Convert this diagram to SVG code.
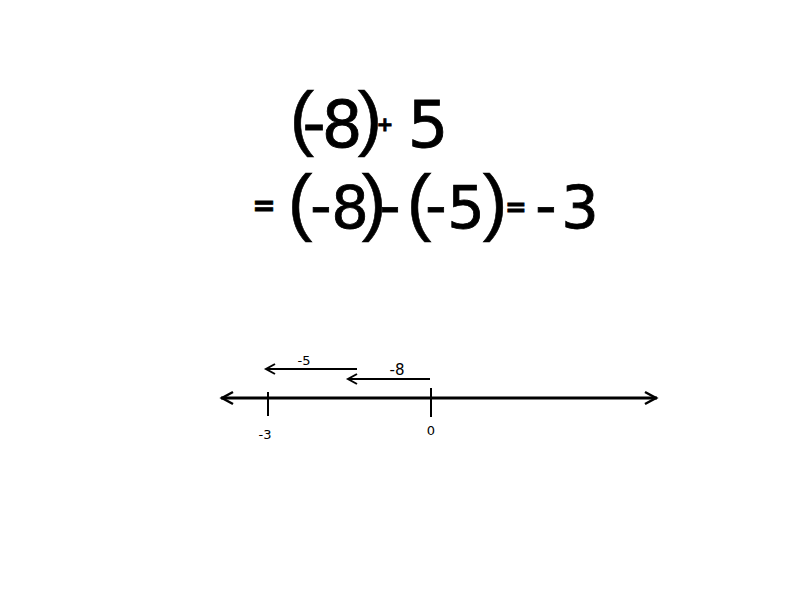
<svg xmlns="http://www.w3.org/2000/svg" width="800" height="600" viewBox="0 0 800 600">
<style>
.eq{font-family:"DejaVu Sans",sans-serif;fill:#000;stroke:#000;stroke-width:0.8;text-anchor:middle}
.p{font-family:"Liberation Sans Narrow","Liberation Sans",sans-serif;stroke-width:0.6}
.lbl{font-family:"DejaVu Sans",sans-serif;fill:#000;text-anchor:middle}
.ln{stroke:#000;fill:none;stroke-linecap:butt;stroke-linejoin:miter}
</style>
<rect width="800" height="600" fill="#fff"/>
<g id="line1">
<text class="eq" font-size="64"><tspan class="p" x="302" y="142" font-size="73">(</tspan><tspan x="314" y="145">-</tspan><tspan x="342" y="147">8</tspan><tspan class="p" x="370" y="142" font-size="73">)</tspan><tspan x="385" y="131" font-size="20" font-weight="bold">+</tspan><tspan x="428" y="147">5</tspan></text>
</g>
<g id="line2">
<text class="eq" font-size="59"><tspan x="264" y="215" font-size="28" font-weight="bold">=</tspan><tspan class="p" x="300" y="227" font-size="74">(</tspan><tspan x="321" y="226">-</tspan><tspan x="350" y="228">8</tspan><tspan class="p" x="374" y="227" font-size="74">)</tspan><tspan x="390" y="226">-</tspan><tspan class="p" x="419" y="227" font-size="74">(</tspan><tspan x="436" y="226">-</tspan><tspan x="466" y="228">5</tspan><tspan class="p" x="495" y="227" font-size="74">)</tspan><tspan x="516" y="216" font-size="26" font-weight="bold">=</tspan><tspan x="546" y="226">-</tspan><tspan x="580" y="228">3</tspan></text>
</g>
<g id="numberline">
<line class="ln" x1="221" y1="398" x2="657" y2="398" stroke-width="3"/>
<polyline class="ln" points="233,392 222,398 233,404" stroke-width="2.5"/>
<polyline class="ln" points="645,392 656,398 645,404" stroke-width="2.5"/>
<line class="ln" x1="268" y1="392" x2="268" y2="416" stroke-width="2"/>
<line class="ln" x1="431" y1="388" x2="431" y2="417" stroke-width="2"/>
<text class="lbl" x="265" y="439" font-size="13">-3</text>
<text class="lbl" x="431" y="435" font-size="13">0</text>
</g>
<g id="connectors">
<line class="ln" x1="357" y1="369" x2="266" y2="369" stroke-width="2"/>
<polyline class="ln" points="275,364 266,369 275,374" stroke-width="2"/>
<line class="ln" x1="430" y1="379" x2="348" y2="379" stroke-width="2"/>
<polyline class="ln" points="357,374 348,379 357,384" stroke-width="2"/>
<text class="lbl" x="304" y="365" font-size="13">-5</text>
<text class="lbl" x="397" y="375" font-size="15">-8</text>
</g>
</svg>
